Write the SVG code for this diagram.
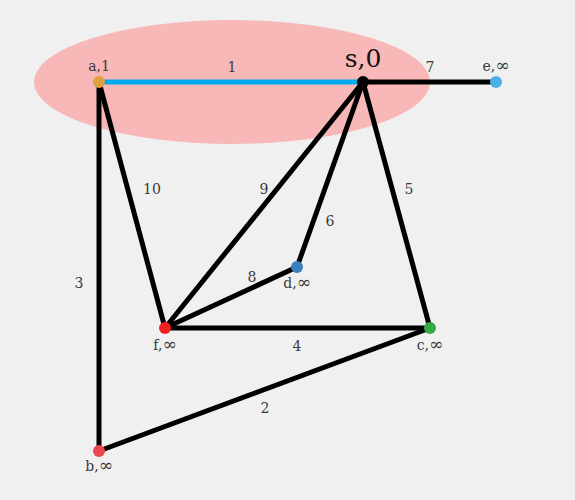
<svg xmlns="http://www.w3.org/2000/svg" width="575" height="500" viewBox="0 0 575 500">
<style>
text{font-family:"DejaVu Serif","Liberation Serif",serif;font-size:14px;fill:#3a3a3a;text-anchor:middle}
.i{font-size:17px}
.e{stroke:#000;stroke-width:5;stroke-linecap:round}
.big{font-size:25px;fill:#111}
</style>
<rect width="575" height="500" fill="#f0f0f0"/>
<ellipse cx="232" cy="82" rx="198" ry="62" fill="#f8b8b8"/>
<g id="connectors">
<line class="e" x1="363" y1="82" x2="496" y2="82"/>
<line class="e" x1="99" y1="82" x2="99" y2="451"/>
<line class="e" x1="99" y1="82" x2="165" y2="328"/>
<line class="e" x1="363" y1="82" x2="165" y2="328"/>
<line class="e" x1="363" y1="82" x2="297" y2="267"/>
<line class="e" x1="363" y1="82" x2="430" y2="328"/>
<line class="e" x1="165" y1="328" x2="297" y2="267"/>
<line class="e" x1="165" y1="328" x2="430" y2="328"/>
<line class="e" x1="430" y1="328" x2="99" y2="451"/>
<line x1="99" y1="82" x2="363" y2="82" stroke="#00aaee" stroke-width="5"/>
<text x="232" y="72">1</text>
<text x="430" y="72">7</text>
<text x="152" y="194">10</text>
<text x="264" y="194">9</text>
<text x="330" y="226">6</text>
<text x="409" y="194">5</text>
<text x="79" y="288">3</text>
<text x="252" y="282">8</text>
<text x="297" y="351">4</text>
<text x="265" y="413">2</text>
</g>
<g id="a"><circle cx="99" cy="82" r="6" fill="#e0a040"/><text x="99" y="71">a,1</text></g>
<g id="s"><circle cx="363" cy="82" r="6" fill="#000"/><text class="big" x="363" y="67">s,0</text></g>
<g id="e"><circle cx="496" cy="82" r="6" fill="#4cb0e8"/><text x="496" y="71">e,<tspan class="i">∞</tspan></text></g>
<g id="d"><circle cx="297" cy="267" r="6" fill="#3a80c0"/><text x="297" y="288">d,<tspan class="i">∞</tspan></text></g>
<g id="f"><circle cx="165" cy="328" r="6" fill="#ee2222"/><text x="165" y="350">f,<tspan class="i">∞</tspan></text></g>
<g id="c"><circle cx="430" cy="328" r="6" fill="#33aa44"/><text x="430" y="350">c,<tspan class="i">∞</tspan></text></g>
<g id="b"><circle cx="99" cy="451" r="6" fill="#e84a50"/><text x="99" y="471">b,<tspan class="i">∞</tspan></text></g>
</svg>
